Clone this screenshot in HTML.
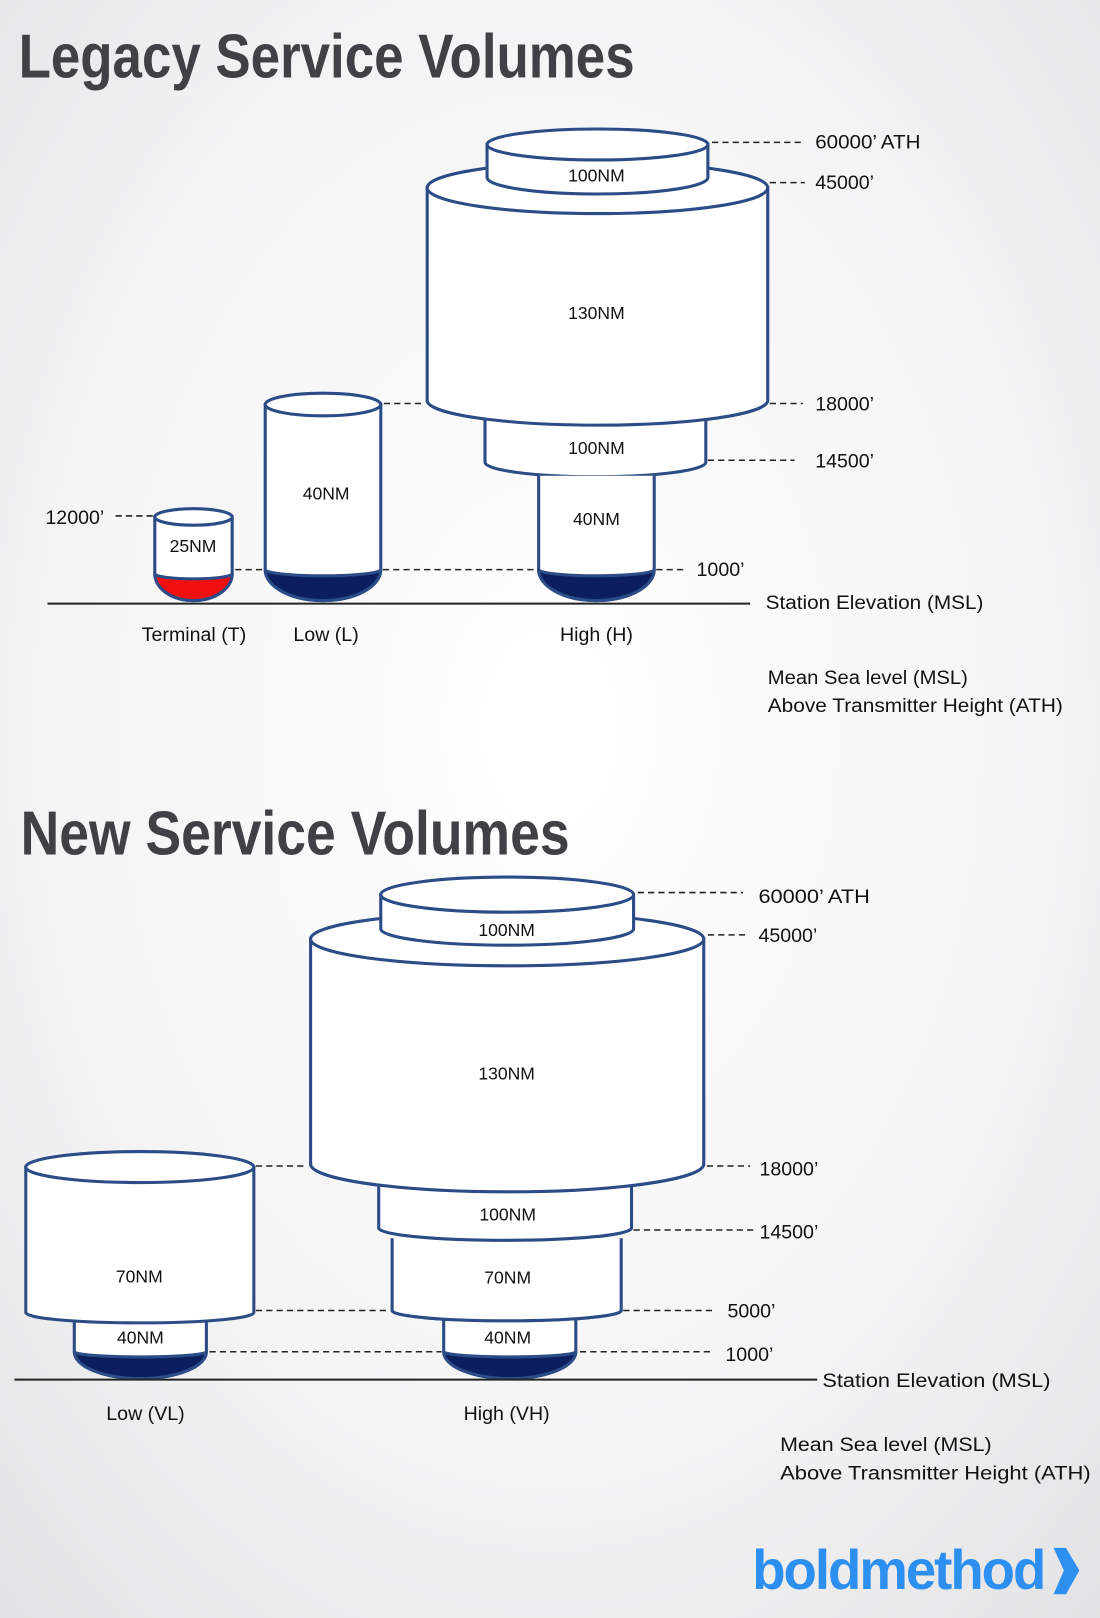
<!DOCTYPE html>
<html><head><meta charset="utf-8"><style>
html,body{margin:0;padding:0;width:1100px;height:1618px;overflow:hidden;}
svg{display:block;}
text{font-family:"Liberation Sans",sans-serif;fill:#111;}
.t{font-size:19px;}
.n{font-size:17px;text-anchor:middle;}
.c{font-size:19px;text-anchor:middle;}
.s{fill:#fff;stroke:#2b4c86;stroke-width:3;}
.nv{fill:#0b1f5e;stroke:#2b4c86;stroke-width:3;}
.rd{fill:#f01010;stroke:#2b4c86;stroke-width:3;}
.d{stroke:#222;stroke-width:1.5;stroke-dasharray:6 4;fill:none;}
.g{stroke:#222;stroke-width:2;}
.h{font-weight:bold;fill:#404045;font-size:60px;}
</style></head><body>
<svg width="1100" height="1618" viewBox="0 0 1066 1568" xmlns="http://www.w3.org/2000/svg">
<defs><radialGradient id="bg" cx="0.5" cy="0.45" r="0.75"><stop offset="0" stop-color="#ffffff"/><stop offset="0.6" stop-color="#f4f4f5"/><stop offset="1" stop-color="#e2e2e4"/></radialGradient></defs>
<rect width="1066" height="1568" fill="url(#bg)"/>

<text x="18" y="75" class="h" textLength="597" lengthAdjust="spacingAndGlyphs">Legacy Service Volumes</text>
<text x="20" y="828" class="h" textLength="532" lengthAdjust="spacingAndGlyphs">New Service Volumes</text>

<path class="s" d="M414,182 L414,388 A165 24 0 0 0 744,388 L744,182 Z"/>
<path class="s" d="M470,405 L470,448 A107 14 0 0 0 684,448 L684,405"/>
<path class="s" d="M522,461 L522,552 A56 30 0 0 0 634,552 L634,461"/>
<path class="nv" d="M522,552 A56 6 0 0 0 634,552 A56 30 0 0 1 522,552 Z"/>
<path class="s" d="M414,388 A165 24 0 0 0 744,388" fill="none"/>
<ellipse class="s" cx="579" cy="182" rx="165" ry="25"/>
<path class="s" d="M472,140 L472,172 A107 16 0 0 0 686,172 L686,140 Z"/>
<ellipse class="s" cx="579" cy="140" rx="107" ry="15"/>
<path class="s" d="M257,392 L257,552 A56 30 0 0 0 369,552 L369,392 Z"/>
<path class="nv" d="M257,552 A56 6 0 0 0 369,552 A56 30 0 0 1 257,552 Z"/>
<ellipse class="s" cx="313" cy="392" rx="56" ry="11"/>
<path class="s" d="M150,501 L150,556 A37.5 26 0 0 0 225,556 L225,501 Z"/>
<path class="rd" d="M150,556 A37.5 5 0 0 0 225,556 A37.5 26 0 0 1 150,556 Z"/>
<ellipse class="s" cx="187.5" cy="501" rx="37.5" ry="8"/>

<text x="578" y="176" class="n">100NM</text>
<text x="578" y="309" class="n">130NM</text>
<text x="578" y="440" class="n">100NM</text>
<text x="578" y="509" class="n">40NM</text>
<text x="316" y="484" class="n">40NM</text>
<text x="187" y="535" class="n">25NM</text>

<line class="g" x1="46" y1="585" x2="727" y2="585"/>
<text x="742" y="590" class="t" textLength="211" lengthAdjust="spacingAndGlyphs">Station Elevation (MSL)</text>
<text x="188" y="621" class="c">Terminal (T)</text>
<text x="316" y="621" class="c">Low (L)</text>
<text x="578" y="621" class="c">High (H)</text>

<line class="d" x1="690" y1="138" x2="780" y2="138"/><text x="790" y="144" class="t" textLength="102" lengthAdjust="spacingAndGlyphs">60000’ ATH</text>
<line class="d" x1="746" y1="177" x2="780" y2="177"/><text x="790" y="183" class="t">45000’</text>
<line class="d" x1="372" y1="391" x2="412" y2="391"/>
<line class="d" x1="746" y1="391" x2="778" y2="391"/><text x="790" y="398" class="t">18000’</text>
<line class="d" x1="686" y1="446" x2="770" y2="446"/><text x="790" y="453" class="t">14500’</text>
<line class="d" x1="636" y1="552" x2="662" y2="552"/><text x="675" y="558" class="t">1000’</text>
<line class="d" x1="228" y1="552" x2="257" y2="552"/>
<line class="d" x1="371" y1="552" x2="522" y2="552"/>
<line class="d" x1="112" y1="500" x2="150" y2="500"/><text x="44" y="508" class="t">12000’</text>
<text x="744" y="663" class="t" textLength="194" lengthAdjust="spacingAndGlyphs">Mean Sea level (MSL)</text>
<text x="744" y="690" class="t" textLength="286" lengthAdjust="spacingAndGlyphs">Above Transmitter Height (ATH)</text>

<path class="s" d="M301,910 L301,1128 A190.5 27 0 0 0 682,1128 L682,910 Z"/>
<path class="s" d="M367,1150 L367,1190 A122.5 12 0 0 0 612,1190 L612,1150"/>
<path class="s" d="M380,1200 L380,1270 A111 10 0 0 0 602,1270 L602,1200"/>
<path class="s" d="M430,1279 L430,1310 A64 26 0 0 0 558,1310 L558,1279"/>
<path class="nv" d="M430,1310 A64 5 0 0 0 558,1310 A64 26 0 0 1 430,1310 Z"/>
<path class="s" d="M380,1270 A111 10 0 0 0 602,1270" fill="none"/>
<path class="s" d="M367,1190 A122.5 12 0 0 0 612,1190" fill="none"/>
<path class="s" d="M301,1128 A190.5 27 0 0 0 682,1128" fill="none"/>
<ellipse class="s" cx="491.5" cy="910" rx="190.5" ry="26"/>
<path class="s" d="M369,867 L369,900 A122.5 16 0 0 0 614,900 L614,867 Z"/>
<ellipse class="s" cx="491.5" cy="867" rx="122.5" ry="17"/>
<path class="s" d="M72,1276 L72,1310 A64 26 0 0 0 200,1310 L200,1276"/>
<path class="nv" d="M72,1310 A64 5 0 0 0 200,1310 A64 26 0 0 1 72,1310 Z"/>
<path class="s" d="M25,1131 L25,1272 A110.5 10 0 0 0 246,1272 L246,1131 Z"/>
<ellipse class="s" cx="135.5" cy="1131" rx="110.5" ry="15"/>

<text x="491" y="907" class="n">100NM</text>
<text x="491" y="1046" class="n">130NM</text>
<text x="492" y="1183" class="n">100NM</text>
<text x="492" y="1244" class="n">70NM</text>
<text x="492" y="1302" class="n">40NM</text>
<text x="135" y="1243" class="n">70NM</text>
<text x="136" y="1302" class="n">40NM</text>

<line class="g" x1="14" y1="1337" x2="792" y2="1337"/>
<text x="797" y="1344" class="t" textLength="221" lengthAdjust="spacingAndGlyphs">Station Elevation (MSL)</text>
<text x="141" y="1376" class="c">Low (VL)</text>
<text x="491" y="1376" class="c">High (VH)</text>

<line class="d" x1="618" y1="865" x2="720" y2="865"/><text x="735" y="875" class="t" textLength="108" lengthAdjust="spacingAndGlyphs">60000’ ATH</text>
<line class="d" x1="686" y1="906" x2="725" y2="906"/><text x="735" y="913" class="t">45000’</text>
<line class="d" x1="248" y1="1130" x2="298" y2="1130"/>
<line class="d" x1="685" y1="1130" x2="727" y2="1130"/><text x="736" y="1139" class="t">18000’</text>
<line class="d" x1="614" y1="1192" x2="730" y2="1192"/><text x="736" y="1200" class="t">14500’</text>
<line class="d" x1="248" y1="1270" x2="378" y2="1270"/>
<line class="d" x1="604" y1="1270" x2="690" y2="1270"/><text x="705" y="1277" class="t">5000’</text>
<line class="d" x1="203" y1="1310" x2="428" y2="1310"/>
<line class="d" x1="562" y1="1310" x2="690" y2="1310"/><text x="703" y="1319" class="t">1000’</text>
<text x="756" y="1406" class="t" textLength="205" lengthAdjust="spacingAndGlyphs">Mean Sea level (MSL)</text>
<text x="756" y="1434" class="t" textLength="301" lengthAdjust="spacingAndGlyphs">Above Transmitter Height (ATH)</text>

<text x="729" y="1540" style="font-size:54px;font-weight:bold;fill:#2d8ff0;letter-spacing:-2px" textLength="283" lengthAdjust="spacingAndGlyphs">boldmethod</text>
<polygon points="1021,1500 1033,1500 1046,1522 1033,1545 1021,1545 1031,1522" fill="#2d8ff0"/>
</svg>
</body></html>
